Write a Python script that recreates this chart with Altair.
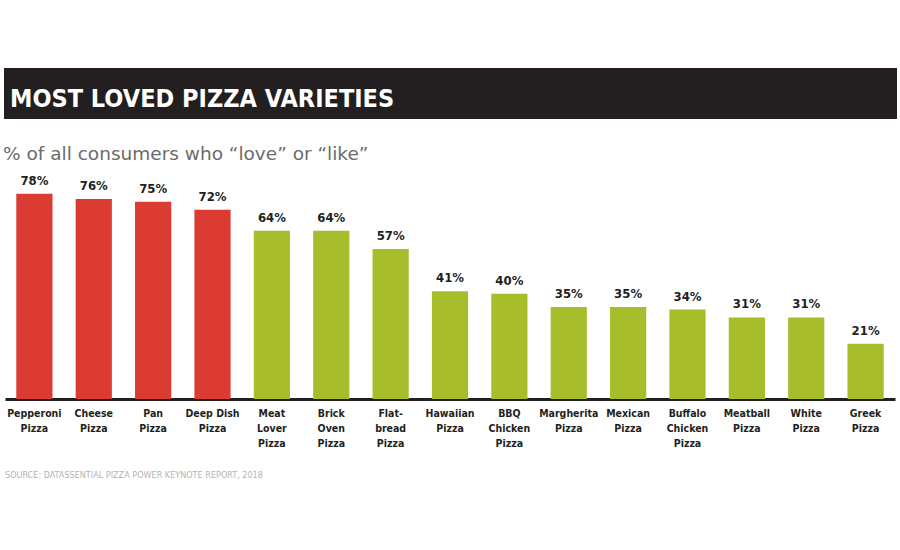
import altair as alt
import pandas as pd

# Pizza varieties ("|" marks a line break in the axis label)
varieties = [
    "Pepperoni|Pizza", "Cheese|Pizza", "Pan|Pizza", "Deep Dish|Pizza",
    "Meat|Lover|Pizza", "Brick|Oven|Pizza", "Flat-|bread|Pizza", "Hawaiian|Pizza",
    "BBQ|Chicken|Pizza", "Margherita|Pizza", "Mexican|Pizza", "Buffalo|Chicken|Pizza",
    "Meatball|Pizza", "White|Pizza", "Greek|Pizza",
]
# % of all consumers who "love" or "like"
shares = [78, 76, 75, 72, 64, 64, 57, 41, 40, 35, 35, 34, 31, 31, 21]
groups = ["top"] * 4 + ["other"] * 11

title_text = ["MOST LOVED PIZZA VARIETIES"]
subtitle_text = ["% of all consumers who \u201clove\u201d or \u201clike\u201d"]
source_text = ["SOURCE: DATASSENTIAL PIZZA POWER KEYNOTE REPORT, 2018"]

RED = "#db3b33"
GREEN = "#a7bd2b"
INK = "#231f20"
NARROW = "'DejaVu Sans Condensed', 'Roboto Condensed', Roboto, sans-serif"

df = pd.DataFrame({"variety": varieties, "share": shares, "group": groups})

base = alt.Chart(df).encode(
    x=alt.X(
        "variety:N",
        sort=None,
        scale=alt.Scale(paddingInner=0.39, paddingOuter=0.19),
        axis=alt.Axis(
            title=None,
            labelExpr="split(datum.label, '|')",
            labelAngle=0,
            labelFont=NARROW,
            labelFontWeight="bold",
            labelFontSize=10.5,
            labelLineHeight=15,
            labelColor=INK,
            labelBaseline="top",
            labelPadding=9,
            labelLimit=0,
            ticks=False,
            domainColor=INK,
            domainWidth=3,
        ),
    )
)

bars = base.mark_bar().encode(
    y=alt.Y("share:Q", scale=alt.Scale(domain=[0, 100]), axis=None),
    color=alt.Color(
        "group:N",
        scale=alt.Scale(domain=["top", "other"], range=[RED, GREEN]),
        legend=None,
    ),
)

values = base.transform_calculate(
    label="datum.share + '%'"
).mark_text(
    baseline="bottom", dy=-6, font=NARROW, fontWeight="bold", fontSize=13, color=INK
).encode(
    y=alt.Y("share:Q"),
    text="label:N",
)

# Header band and texts around the plot
header_bar = alt.Chart(pd.DataFrame({"k": [0]})).mark_rect(color=INK).encode(
    x=alt.value(-1), x2=alt.value(892), y=alt.value(-68), y2=alt.value(-17)
)
header = alt.Chart(pd.DataFrame({"t": title_text})).mark_text(
    align="left", baseline="alphabetic", font=NARROW, fontWeight="bold",
    fontSize=25, color="white"
).encode(x=alt.value(5), y=alt.value(-29), text="t:N")

subtitle = alt.Chart(pd.DataFrame({"t": subtitle_text})).mark_text(
    align="left", baseline="alphabetic", font="DejaVu Sans", fontSize=18.5,
    color="#6b6b6b"
).encode(x=alt.value(-2), y=alt.value(24), text="t:N")

source = alt.Chart(pd.DataFrame({"t": source_text})).mark_text(
    align="left", baseline="alphabetic", font=NARROW, fontSize=9,
    color="#b3b3b3"
).encode(x=alt.value(0), y=alt.value(342), text="t:N")

chart = alt.layer(header_bar, header, subtitle, bars, values, source).properties(
    width=890,
    height=263,
    autosize=alt.AutoSizeParams(type="none"),
    padding={"left": 5, "top": 136, "right": 5, "bottom": 151},
    background="white",
).configure_view(stroke=None)

chart.save("out.html", embed_options={"renderer": "svg", "actions": False})
